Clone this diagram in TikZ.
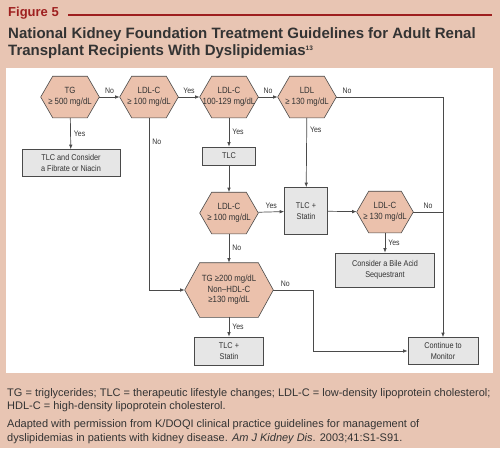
\documentclass[tikz,border=0pt]{standalone}
\usepackage{fontspec}
\setmainfont{Liberation Sans}
\newfontfamily\narrowfont{Liberation Sans}[FakeStretch=0.87]
\usetikzlibrary{shapes,arrows.meta,positioning,calc,backgrounds}
\usepackage{xcolor}
\definecolor{bgsalmon}{HTML}{E8C5B3}
\definecolor{hexfill}{HTML}{EBC1AC}
\definecolor{boxfill}{HTML}{E6E6E6}
\definecolor{figred}{HTML}{9E1F1F}
\definecolor{linegray}{HTML}{4A4A4A}
\definecolor{textgray}{HTML}{333333}

% hexagon drawn round a decision node (name, tip inset)
\newcommand{\hexoutline}[2]{%
  \filldraw[hexline] (#1.west) -- ($(#1.north west)+(#2,0)$) -- ($(#1.north east)+(-#2,0)$)
    -- (#1.east) -- ($(#1.south east)+(-#2,0)$) -- ($(#1.south west)+(#2,0)$) -- cycle;}

\begin{document}
\begin{tikzpicture}[
x=1pt, y=-1pt,
decision/.style={
    rectangle,
    minimum width=58pt,
    minimum height=41pt,
    inner sep=0pt,
    outer sep=0.3pt,
    align=center,
    text=textgray,
    font=\narrowfont\fontsize{9}{10.5}\selectfont
},
hexline/.style={draw=linegray, fill=hexfill, line width=0.6pt, line join=miter},
action/.style={
    draw=linegray,
    fill=boxfill,
    rectangle,
    inner sep=0pt,
    align=center,
    text=textgray,
    line width=0.6pt,
    font=\narrowfont\fontsize{8.4}{11}\selectfont
},
flow/.style={draw=linegray, line width=0.7pt, -{Latex[length=4.5pt,width=3.5pt]}},
merge/.style={draw=linegray, line width=0.7pt},
answer/.style={font=\narrowfont\fontsize{8}{9}\selectfont, text=textgray, inner sep=1pt}
]

\useasboundingbox (0,0) rectangle (500,448);

% heading
\node[anchor=west, inner sep=0pt, text=figred, font=\bfseries\fontsize{13}{15}\selectfont] (fig) at (8,13) {Figure 5};
\draw[figred, line width=1.3pt] (68,15) -- (492,15);
\node[anchor=north west, inner sep=0pt, align=left, text=textgray,
      font=\bfseries\fontsize{15}{17}\selectfont] (title) at (8,27.5) {%
National Kidney Foundation Treatment Guidelines for Adult Renal\\
Transplant Recipients With Dyslipidemias\raisebox{5.5pt}{\fontsize{6.5}{7}\selectfont 13}};

% decisions
\node[decision] (tg500) at (70,97) {TG\\≥ 500 mg/dL};
\node[decision] (ldlc100) at (149,97) {LDL-C\\≥ 100 mg/dL};
\node[decision] (ldlc129) at (229,97) {LDL-C\\100-129 mg/dL};
\node[decision] (ldl130) at (307,97) {LDL\\≥ 130 mg/dL};
\node[decision] (ldlcb) at (229,213) {LDL-C\\≥ 100 mg/dL};
\node[decision, minimum width=56pt] (ldlc130) at (385,212) {LDL-C\\≥ 130 mg/dL};
\node[decision, minimum width=88pt, minimum height=54pt] (tg200) at (229,290)
    {TG ≥200 mg/dL\\Non–HDL-C\\≥130 mg/dL};

% actions
\node[action, minimum width=98pt, minimum height=27pt] (fibrate) at (71,163)
    {TLC and Consider\\a Fibrate or Niacin};
\node[action, minimum width=53pt, minimum height=18pt] (tlc) at (229,156) {TLC};
\node[action, minimum width=43pt, minimum height=47pt] (statin) at (306,211) {TLC +\\Statin};
\node[action, minimum width=99pt, minimum height=34pt] (bile) at (385,270)
    {Consider a Bile Acid\\Sequestrant};
\node[action, minimum width=69pt, minimum height=28pt] (statinb) at (229,351) {TLC +\\Statin};
\node[action, minimum width=70pt, minimum height=27pt] (monitor) at (443,351)
    {Continue to\\Monitor};

\begin{scope}[on background layer]
\fill[bgsalmon] (0,0) rectangle (500,448);
\fill[white] (6,68) rectangle (493,373);
\foreach \n in {tg500,ldlc100,ldlc129,ldl130,ldlcb,ldlc130}
    {\hexoutline{\n}{12}}
\hexoutline{tg200}{15}
\end{scope}

\coordinate (bend) at (313,290);

% top row
\draw[flow] (tg500) -- (ldlc100) node[midway, above=2pt, answer] {No};
\draw[flow] (ldlc100) -- (ldlc129) node[midway, above=2pt, answer] {Yes};
\draw[flow] (ldlc129) -- (ldl130) node[midway, above=2pt, answer] {No};
\draw[flow] (ldl130) -| (monitor) node[pos=0.05, above=2pt, answer] {No};

% down the columns
\draw[flow] (tg500) -- (fibrate) node[midway, right=2pt, answer] {Yes};
\draw[flow] (ldlc100) |- (tg200) node[pos=0.07, right=2pt, answer] {No};
\draw[flow] (ldlc129) -- (tlc) node[midway, right=2pt, answer] {Yes};
\draw[flow] (tlc) -- (ldlcb);
\draw[flow] (ldl130) -- (statin) node[pos=0.17, right=2pt, answer] {Yes};

% LDL-C -- TLC + Statin
\draw[flow] (ldlcb) -- (statin) node[midway, above=2pt, answer] {Yes};
\draw[flow] (statin) -- (ldlc130);
\draw[merge] (ldlc130) -- (ldlc130 -| monitor) node[midway, above=2pt, answer] {No};
\draw[flow] (ldlc130) -- (bile) node[midway, right=2pt, answer] {Yes};

% TG >= 200
\draw[flow] (ldlcb) -- (tg200) node[midway, right=2pt, answer] {No};
\draw[flow] (tg200) -- (statinb) node[midway, right=2pt, answer] {Yes};
\draw[flow] (tg200) -- node[pos=0.3, above=2pt, answer] {No} (bend) |- (monitor);

% notes
\node[anchor=north west, inner sep=0pt, align=left, text=textgray,
      font=\fontsize{11}{13}\selectfont] (abbrev) at (7,388) {%
TG = triglycerides; TLC = therapeutic lifestyle changes; LDL-C = low-density lipoprotein cholesterol;\\
HDL-C = high-density lipoprotein cholesterol.};
\node[anchor=north west, inner sep=0pt, align=left, text=textgray,
      font=\fontsize{11}{14}\selectfont] (source) at (7,419) {%
Adapted with permission from K/DOQI clinical practice guidelines for management of\\
dyslipidemias in patients with kidney disease. \textit{Am J Kidney Dis}. 2003;41:S1-S91.};

\end{tikzpicture}
\end{document}
